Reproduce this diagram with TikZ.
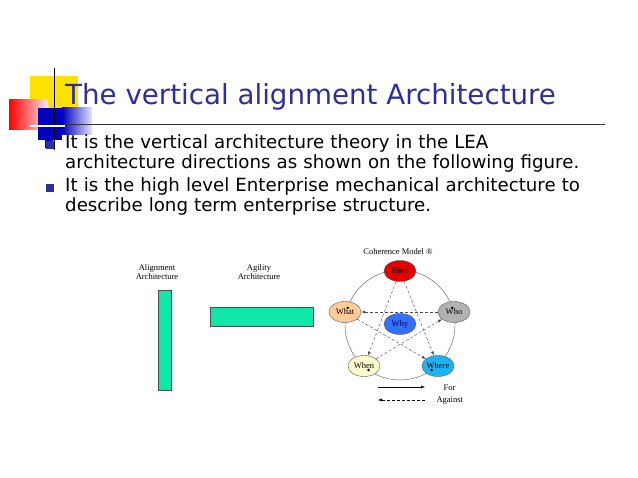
\documentclass[tikz,border=0pt]{standalone}
\usepackage{fontspec}
\setmainfont{DejaVu Sans}
\newfontfamily\serifd{Liberation Serif}
\usetikzlibrary{arrows.meta,shapes.geometric}
\definecolor{mint}{HTML}{10E8A8}
\definecolor{tblue}{HTML}{2E2E9E}
\begin{document}
\begin{tikzpicture}[x=1pt,y=-1pt,
 el/.style={ellipse,draw=gray!70!black,minimum width=32pt,minimum height=21pt,inner sep=0pt,font=\serifd\fontsize{8.5}{9}\selectfont},
 lbl/.style={font=\serifd\fontsize{8.5}{9.5}\selectfont,align=center},
 dsh/.style={densely dashed,gray!60!black,-{Latex[length=4pt]}},
 bul/.style={font=\fontsize{18.2}{20.5}\selectfont,anchor=north west,align=left,text width=560pt,inner sep=0pt}]
\useasboundingbox (0,0) rectangle (638,478);
\fill[white] (0,0) rectangle (638,478);
% logo
\fill[yellow!85!orange] (30,76) rectangle (78,120);
\shade[left color=red, right color=red!10] (9,100) rectangle (48,130);
\fill[blue!75!black] (38,108) rectangle (62,140);
\shade[left color=blue!75!black,right color=blue!10] (62,108) rectangle (92,135);
\fill[blue!75!black] (45,140) rectangle (53,148);
\draw[black,line width=1pt] (54,68) -- (54,150);
\draw[white,line width=1.5pt] (30,126) -- (65,126);
\draw[black!80,line width=1pt] (65,125) -- (605,125);
\node[anchor=west,inner sep=0pt,text=tblue,font=\fontsize{27.7}{30}\selectfont] (title) at (65,97) {The vertical alignment Architecture};
% bullets
\fill[tblue] (46,141) rectangle (54,149) coordinate (b1);
\node[bul] (t1) at (65,134) {It is the vertical architecture theory in the LEA\\architecture directions as shown on the following figure.};
\fill[tblue] (46,184) rectangle (54,192) coordinate (b2);
\node[bul] (t2) at (65,177) {It is the high level Enterprise mechanical architecture to\\describe long term enterprise structure.};
% left figures
\node[lbl] (al) at (157,272) {Alignment\\Architecture};
\node[lbl] (ag) at (259,272) {Agility\\Architecture};
\node[draw=black!70,fill=mint,minimum width=13pt,minimum height=100pt,inner sep=0pt] (vr) at (164.5,340) {};
\node[draw=black!70,fill=mint,minimum width=103pt,minimum height=19pt,inner sep=0pt] (hr) at (261.5,316.5) {};
% coherence
\node[lbl] (cm) at (398,252) {Coherence Model ®};
\draw[gray!70!black] (400,325) circle (55);
\node[el,fill=red!90!black] (how) at (400,271) {How};
\node[el,fill=orange!40] (what) at (345,312) {What};
\node[el,fill=gray!60] (who) at (454,312) {Who};
\node[el,fill=yellow!20] (when) at (364,366) {When};
\node[el,fill=cyan!90] (where) at (438,366) {Where};
\node[el,fill=blue!70!cyan!80,text=blue!30!black] (why) at (400,324) {Why};
\foreach \a in {125,55,-18,-90,-162}{\fill[black] (400,325) ++(\a:55) circle (1.4);}
\draw[dsh] (how) -- (when);
\draw[dsh] (how) -- (where);
\draw[dsh] (who) -- (what);
\draw[dsh] (what) -- (where);
\draw[dsh] (when) -- (who);
\coordinate (f1) at (378,387); \coordinate (f2) at (425,387);
\draw[-{Latex[length=4pt]}] (f1) -- (f2);
\node[lbl,anchor=west] (for) at (440,388) {For};
\coordinate (g1) at (425,400); \coordinate (g2) at (378,400);
\draw[densely dashed,-{Latex[length=4pt]}] (g1) -- (g2);
\node[lbl,anchor=west] (ag2) at (433,401) {Against};
\end{tikzpicture}
\end{document}
